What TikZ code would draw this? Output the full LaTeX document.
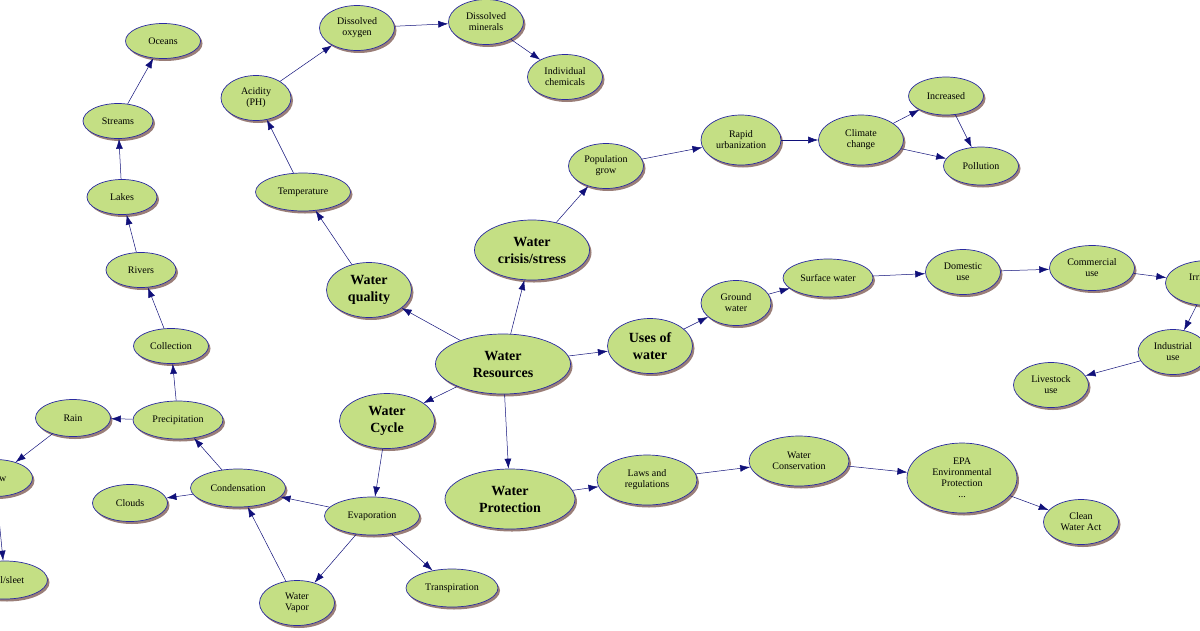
\documentclass[tikz,border=0pt]{standalone}
\usepackage{fontspec}
\setmainfont{Liberation Serif}
\usetikzlibrary{shapes.geometric,arrows.meta,shadows}
\definecolor{bub}{HTML}{C4DF84}
\definecolor{edge}{HTML}{2A2AA0}
\definecolor{arr}{HTML}{10107A}
\definecolor{shd}{HTML}{9A7E78}
\begin{document}
\begin{tikzpicture}[x=1pt,y=-1pt,
 b/.style={ellipse,draw=edge,line width=0.7pt,fill=bub,inner sep=0pt,align=center,
   font=\fontsize{10}{11}\selectfont,
   drop shadow={fill=shd,shadow xshift=2pt,shadow yshift=-2.5pt,opacity=1}},
 big/.style={b,font=\fontsize{14}{17}\selectfont\bfseries},
 a/.style={draw=arr,line width=0.5pt,-{Latex[length=10pt,width=7pt]}}]
\useasboundingbox (0,0) rectangle (1200,630);
\clip (0,0) rectangle (1200,630);
\def\N#1#2#3#4#5#6{\node[#1,minimum width=#4,minimum height=#5] (#2) at #3 {#6};}
\N{b}{oce}{(163,41)}{75pt}{35pt}{Oceans}
\N{b}{str}{(118,121)}{70pt}{35pt}{Streams}
\N{b}{lak}{(122,197)}{70pt}{35pt}{Lakes}
\N{b}{riv}{(141,270)}{70pt}{35pt}{Rivers}
\N{b}{col}{(171,346)}{75pt}{35pt}{Collection}
\N{b}{pre}{(178,420)}{90pt}{38pt}{Precipitation}
\N{b}{rai}{(73,418)}{75pt}{37pt}{Rain}
\N{b}{sno}{(-5,478)}{75pt}{37pt}{Snow}
\N{b}{hai}{(5,580)}{85pt}{38pt}{Hail/sleet}
\N{b}{clo}{(130,503)}{75pt}{37pt}{Clouds}
\N{b}{con}{(238,488)}{95pt}{38pt}{Condensation}
\N{b}{eva}{(372,516)}{95pt}{38pt}{Evaporation}
\N{b}{vap}{(297,603)}{75pt}{45pt}{Water\\Vapor}
\N{b}{tra}{(452,588)}{92pt}{38pt}{Transpiration}
\N{big}{cyc}{(387,421)}{95pt}{55pt}{Water\\Cycle}
\N{big}{res}{(503,364)}{135pt}{60pt}{Water\\Resources}
\N{big}{qua}{(369,290)}{85pt}{55pt}{Water\\quality}
\N{b}{tem}{(303,192)}{95pt}{38pt}{Temperature}
\N{b}{aci}{(256,98)}{70pt}{45pt}{Acidity\\(PH)}
\N{b}{dox}{(357,28)}{75pt}{45pt}{Dissolved\\oxygen}
\N{b}{dmi}{(486,22)}{75pt}{45pt}{Dissolved\\minerals}
\N{b}{ind}{(565,77)}{75pt}{45pt}{Individual\\chemicals}
\N{big}{cri}{(532,250)}{115pt}{60pt}{Water\\crisis/stress}
\N{b}{pop}{(606,166)}{75pt}{45pt}{Population\\grow}
\N{b}{rap}{(741,140)}{80pt}{50pt}{Rapid\\urbanization}
\N{b}{cli}{(861,140)}{85pt}{50pt}{Climate\\change}
\N{b}{inc}{(946,96)}{75pt}{38pt}{Increased}
\N{b}{pol}{(981,166)}{75pt}{38pt}{Pollution}
\N{big}{use}{(650,346)}{85pt}{55pt}{Uses of\\water}
\N{b}{gro}{(736,303)}{70pt}{45pt}{Ground\\water}
\N{b}{sur}{(828,278)}{90pt}{38pt}{Surface water}
\N{b}{dom}{(963,272)}{75pt}{45pt}{Domestic\\use}
\N{b}{com}{(1092,268)}{85pt}{45pt}{Commercial\\use}
\N{b}{irr}{(1208,283)}{85pt}{45pt}{Irrigation\\use}
\N{b}{inu}{(1173,352)}{70pt}{45pt}{Industrial\\use}
\N{b}{liv}{(1051,385)}{75pt}{45pt}{Livestock\\use}
\N{big}{pro}{(510,499)}{130pt}{60pt}{Water\\Protection}
\N{b}{law}{(647,480)}{100pt}{50pt}{Laws and\\regulations}
\N{b}{cns}{(799,461)}{100pt}{50pt}{Water\\Conservation}
\N{b}{epa}{(962,478)}{110pt}{70pt}{EPA\\Environmental\\Protection\\...}
\N{b}{cwa}{(1081,522)}{75pt}{45pt}{Clean\\Water Act}
\foreach \s/\t in {str/oce,lak/str,riv/lak,col/riv,pre/col,pre/rai,rai/sno,sno/hai,
 con/pre,con/clo,eva/con,vap/con,eva/vap,eva/tra,cyc/eva,res/cyc,res/qua,qua/tem,
 tem/aci,aci/dox,dox/dmi,dmi/ind,res/cri,cri/pop,pop/rap,rap/cli,cli/inc,inc/pol,cli/pol,
 res/use,use/gro,gro/sur,sur/dom,dom/com,com/irr,irr/inu,inu/liv,res/pro,pro/law,law/cns,
 cns/epa,epa/cwa}
 \draw[a] (\s) -- (\t);
\end{tikzpicture}
\end{document}
